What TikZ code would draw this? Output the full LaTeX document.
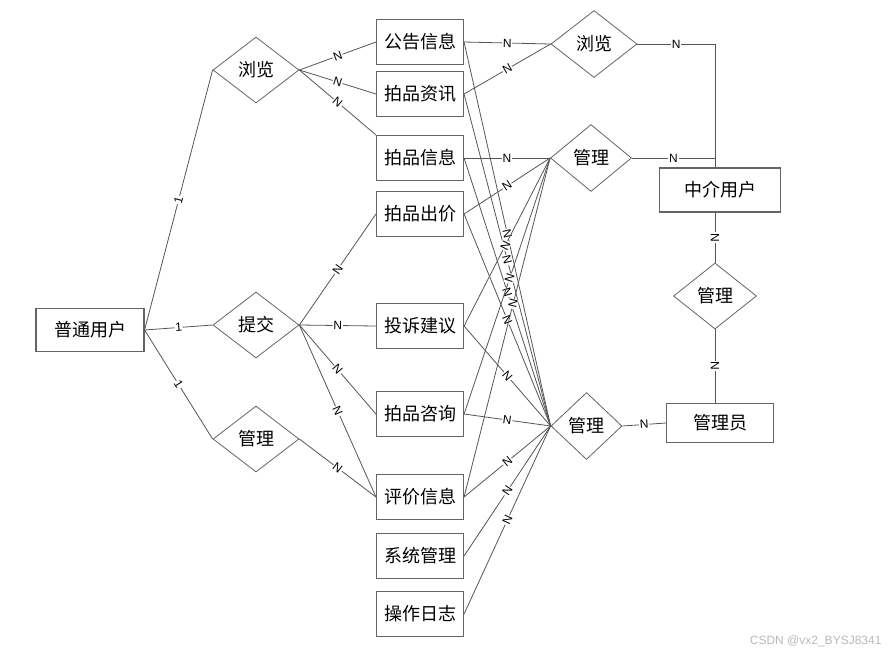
\documentclass[tikz,border=0pt]{standalone}
\usepackage{fontspec}
\usepackage{xcolor}
\usepackage{tikz}
\usetikzlibrary{shapes.geometric, positioning, calc}
\newfontfamily\cjkfont{Noto Sans CJK SC}
\newfontfamily\cardfont{Liberation Sans}
\definecolor{myline}{RGB}{85,85,85}
\definecolor{myborder}{RGB}{100,100,100}
\definecolor{mymark}{RGB}{185,185,185}
\tikzset{
  line/.style={draw=myline, line width=0.8pt},
  entity/.style={draw=myborder, line width=1.1pt, rectangle, fill=white, align=center, font=\cjkfont\fontsize{18}{20}\selectfont, minimum width=87pt, minimum height=45pt, inner sep=0pt},
  relation/.style={draw=myborder, line width=0.8pt, diamond, fill=white, font=\cjkfont\fontsize{18}{20}\selectfont, minimum width=86pt, minimum height=66pt, inner sep=0pt},
  card/.style={fill=white, inner sep=0.8pt, sloped, font=\cardfont\fontsize{12}{12}\selectfont}
}

\begin{document}
\begin{tikzpicture}[x=1pt, y=-1pt]
  \useasboundingbox (0,0) rectangle (889,657);

  % users
  \node [entity, minimum width=108pt, minimum height=43pt] (user) at (90,330) {普通用户};
  \node [entity, minimum width=121pt, minimum height=44pt] (agent) at (720,190) {中介用户};
  \node [entity, minimum width=107pt, minimum height=39pt] (admin) at (720,423) {管理员};

  % left relations
  \node [relation] (browseL) at (256,70) {浏览};
  \node [relation] (submit) at (256,325) {提交};
  \node [relation] (manageL) at (256,439) {管理};

  % data column
  \node [entity] (notice) at (420,42) {公告信息};
  \node [entity] (news) at (420,94) {拍品资讯};
  \node [entity] (item) at (420,158) {拍品信息};
  \node [entity] (bid) at (420,214) {拍品出价};
  \node [entity] (complaint) at (420,326) {投诉建议};
  \node [entity] (consult) at (420,414) {拍品咨询};
  \node [entity] (review) at (420,497) {评价信息};
  \node [entity] (sysmgr) at (420,556) {系统管理};
  \node [entity] (oplog) at (420,614) {操作日志};

  % right relations
  \node [relation, minimum height=67pt] (browseR) at (594,44) {浏览};
  \node [relation, minimum width=81pt, minimum height=67pt] (manageU) at (591,158) {管理};
  \node [relation, minimum width=71pt, minimum height=67pt] (manageH) at (586.5,426) {管理};
  \node [relation, minimum width=83pt] (manageR) at (715,296) {管理};
  \coordinate (corner) at (715,44);

  % user side
  \draw [line] (user.east) -- node [card] {1} (browseL.west);
  \draw [line] (user.east) -- node [card] {1} (submit.west);
  \draw [line] (user.east) -- node [card] {1} (manageL.west);
  \draw [line] (browseL.east) -- node [card] {N} (notice.west);
  \draw [line] (browseL.east) -- node [card] {N} (news.west);
  \draw [line] (browseL.east) -- node [card] {N} (item.north west);
  \draw [line] (submit.east) -- node [card] {N} (bid.west);
  \draw [line] (submit.east) -- node [card] {N} (complaint.west);
  \draw [line] (submit.east) -- node [card] {N} (consult.west);
  \draw [line] (submit.east) -- node [card] {N} (review.west);
  \draw [line] (manageL.east) -- node [card] {N} (review.west);

  % admin hub
  \draw [line] (notice.east) -- node [card] {N} (manageH.west);
  \draw [line] (news.east) -- node [card] {N} (manageH.west);
  \draw [line] (item.east) -- node [card] {N} (manageH.west);
  \draw [line] (bid.east) -- node [card] {N} (manageH.west);
  \draw [line] (complaint.east) -- node [card] {N} (manageH.west);
  \draw [line] (consult.east) -- node [card] {N} (manageH.west);
  \draw [line] (review.east) -- node [card] {N} (manageH.west);
  \draw [line] (sysmgr.east) -- node [card] {N} (manageH.west);
  \draw [line] (oplog.east) -- node [card] {N} (manageH.west);

  % agent side
  \draw [line] (manageU.west) -- node [card, pos=0.52] {N} (complaint.east);
  \draw [line] (manageU.west) -- node [card, pos=0.47] {N} (consult.east);
  \draw [line] (manageU.west) -- node [card, pos=0.43] {N} (review.east);
  \draw [line] (notice.east) -- node [card] {N} (browseR.west);
  \draw [line] (news.east) -- node [card] {N} (browseR.west);
  \draw [line] (item.east) -- node [card] {N} (manageU.west);
  \draw [line] (bid.east) -- node [card] {N} (manageU.west);
  \draw [line] (browseR.east) -- node [card] {N} (corner) -- (agent.north -| corner);
  \draw [line] (manageU.east) -- node [card] {N} (manageU.east -| corner);
  \draw [line] (agent.south -| manageR) -- node [card] {N} (manageR.north);
  \draw [line] (manageR.south) -- node [card] {N} (admin.north -| manageR);
  \draw [line] (manageH.east) -- node [card] {N} (admin.west);

  \node [anchor=east, text=mymark, font=\cardfont\fontsize{12}{12}\selectfont] (mark) at (885,641) {CSDN @vx2\_BYSJ8341};
\end{tikzpicture}
\end{document}
